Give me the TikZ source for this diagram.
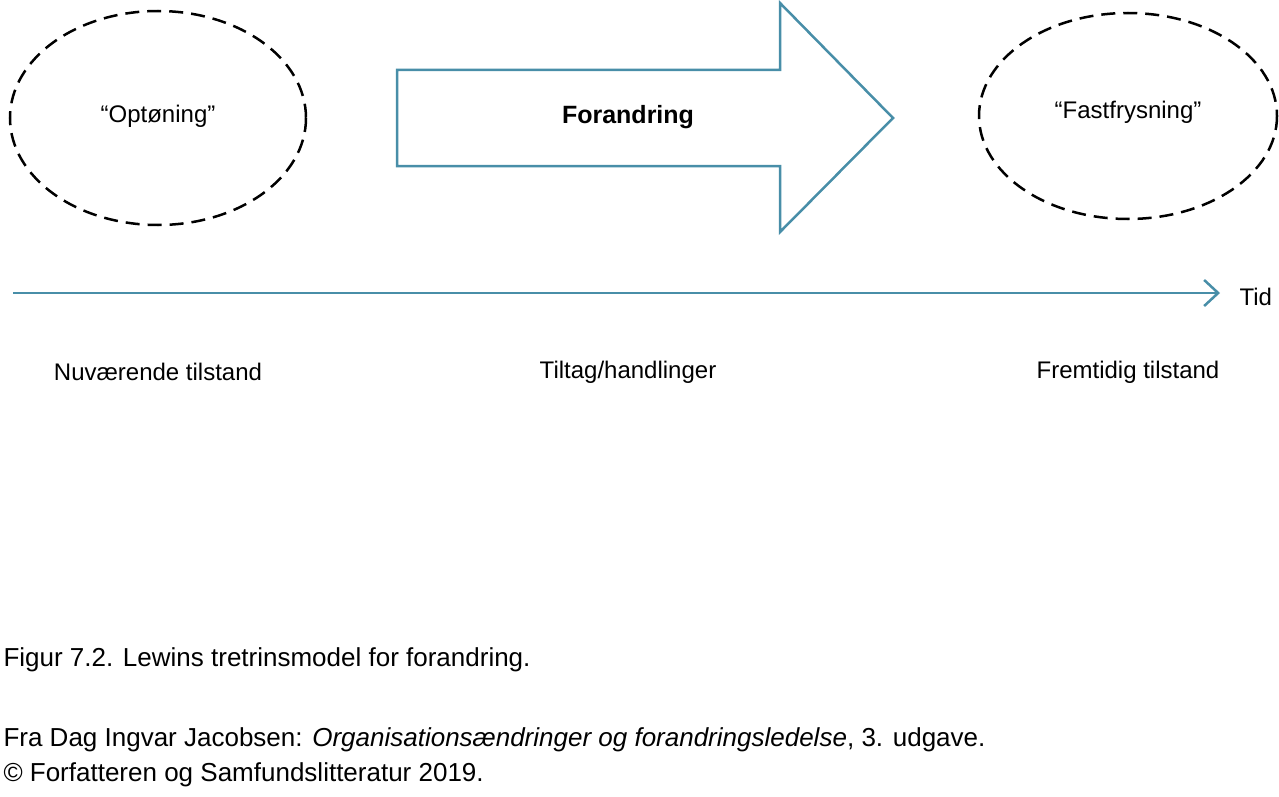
\documentclass[tikz,border=0pt]{standalone}
\usetikzlibrary{arrows.meta}
\usepackage{fontspec}
\setmainfont{Liberation Sans}
\begin{document}
\begin{tikzpicture}[x=1pt,y=-1pt,
  dashell/.style={draw=black,line width=2.5pt,dash pattern=on 14pt off 8pt},
  teal/.style={draw={rgb,255:red,72;green,142;blue,168},line width=2.5pt},
  lab/.style={font=\fontsize{24}{28}\selectfont},
  captxt/.style={font=\fontsize{26}{32}\selectfont,anchor=west}]
\useasboundingbox (0,0) rectangle (1279,797);
\draw[dashell] (158,118) ellipse [x radius=148,y radius=107];
\draw[dashell] (1128,116) ellipse [x radius=149,y radius=103];
\node[lab] (opt) at (158,116) {“Optøning”};
\node[lab] (fast) at (1128,112) {“Fastfrysning”};
\draw[teal,line join=miter] (397,70) -- (780,70) -- (780,3) -- (893,118) -- (780,232) -- (780,166) -- (397,166) -- cycle;
\node[lab,font=\fontsize{25}{30}\selectfont\bfseries] (forandring) at (628,117) {Forandring};
\coordinate (t0) at (13,293);
\node[lab,anchor=west] (tid) at (1236,297) {Tid};
\draw[teal,-{Straight Barb[length=14pt,width=26pt]}] (t0) -- (1220,293);
\node[lab] (nu) at (158,372) {Nuværende tilstand};
\node[lab] (til) at (628,372) {Tiltag/handlinger};
\node[lab] (frem) at (1128,372) {Fremtidig tilstand};
\node[captxt] (c1) at (0,660) {Figur 7.2. Lewins tretrinsmodel for forandring.};
\node[captxt] (c2) at (0,740) {Fra Dag Ingvar Jacobsen: \textit{Organisationsændringer og forandringsledelse}, 3. udgave.};
\node[captxt] (c3) at (0,775) {© Forfatteren og Samfundslitteratur 2019.};
\end{tikzpicture}
\end{document}
